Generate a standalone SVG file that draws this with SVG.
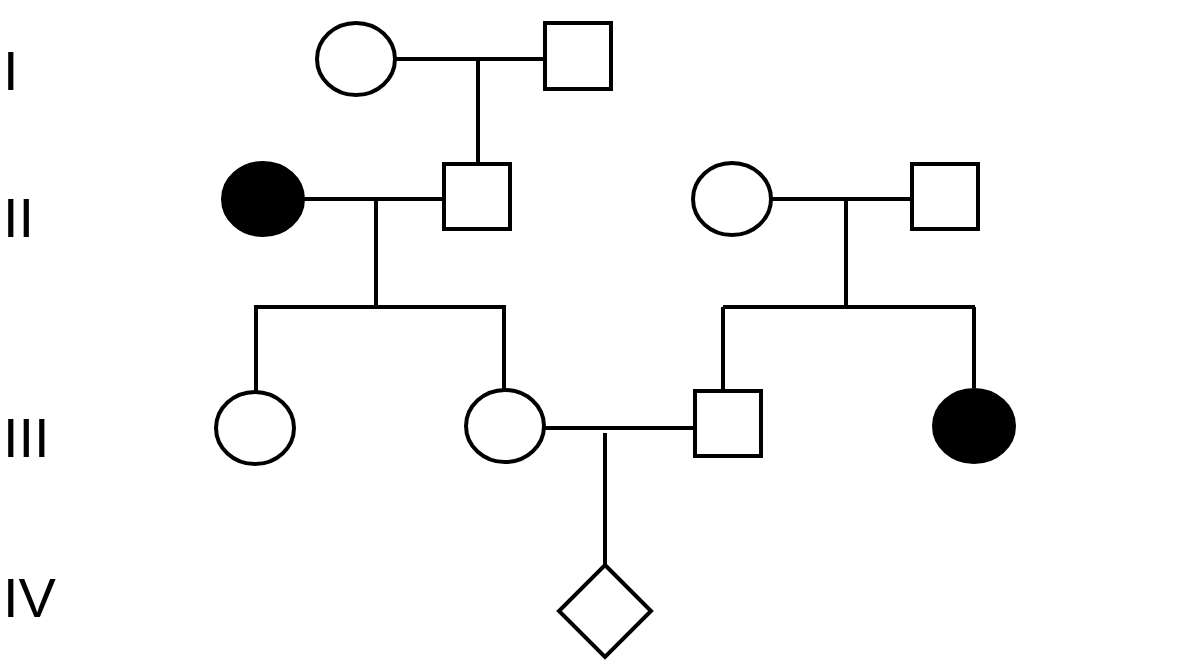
<svg xmlns="http://www.w3.org/2000/svg" width="1186" height="667" viewBox="0 0 1186 667">
<style>
.s{fill:#fff;stroke:#000;stroke-width:4}
.f{fill:#000;stroke:#000;stroke-width:4}
.l{stroke:#000;stroke-width:4;fill:none}
text{font-family:"Liberation Sans",Arial,sans-serif;font-size:56px;fill:#000}
</style>
<rect width="1186" height="667" fill="#fff"/>
<g id="labels">
<text x="3" y="90">I</text>
<text x="3" y="237">II</text>
<text x="3" y="457">III</text>
<text x="3" y="617">IV</text>
</g>
<g id="connectors">
<path class="l" d="M395 59H545M478 59V163M304 199H444M376 199V307M771 199H912M846 199V307M254 307H506M256 307V392M504 307V390M723 307H975M723 307V390M974 307V388M543 428H695M605 433V565"/>
</g>
<g id="I1"><ellipse class="s" cx="356" cy="59" rx="39" ry="36"/></g>
<g id="I2"><rect class="s" x="545" y="23" width="66" height="66"/></g>
<g id="II1"><ellipse class="f" cx="263" cy="199" rx="40" ry="36"/></g>
<g id="II2"><rect class="s" x="444" y="164" width="66" height="65"/></g>
<g id="II3"><ellipse class="s" cx="732" cy="199" rx="39" ry="36"/></g>
<g id="II4"><rect class="s" x="912" y="164" width="66" height="65"/></g>
<g id="III1"><ellipse class="s" cx="255" cy="428" rx="39" ry="36"/></g>
<g id="III2"><ellipse class="s" cx="505" cy="426" rx="39" ry="36"/></g>
<g id="III3"><rect class="s" x="695" y="391" width="66" height="65"/></g>
<g id="III4"><ellipse class="f" cx="974" cy="426" rx="40" ry="36"/></g>
<g id="IV1"><polygon class="s" points="605,565 651,611 605,657 559,611"/></g>
</svg>
